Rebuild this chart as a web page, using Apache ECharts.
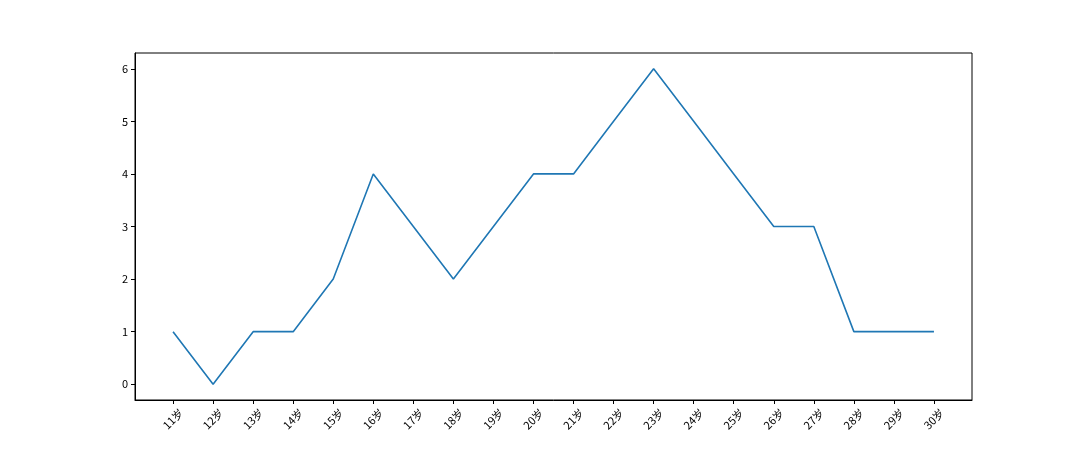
<!DOCTYPE html>
<html><head><meta charset="utf-8">
<script src="https://cdn.jsdelivr.net/npm/echarts@6/dist/echarts.min.js"></script>
<style>html,body{margin:0;padding:0;background:#fff}#c{width:1080px;height:450px}</style>
</head><body><div id="c"></div>
<script>
const categories = ["11岁","12岁","13岁","14岁","15岁","16岁","17岁","18岁","19岁","20岁","21岁","22岁","23岁","24岁","25岁","26岁","27岁","28岁","29岁","30岁"];
const values = [1,0,1,1,2,4,3,2,3,4,4,5,6,5,4,3,3,1,1,1];
const yTicks = [0,1,2,3,4,5,6];

const idx = categories.map((_, i) => i);
const chart = echarts.init(document.getElementById('c'), null, {renderer: 'canvas'});
const font = '"Noto Sans CJK SC", "DejaVu Sans", sans-serif';
chart.setOption({
  animation: false,
  grid: {left: 135, right: 108, top: 53, bottom: 50, show: true, borderColor: '#000', borderWidth: 1, backgroundColor: 'transparent'},
  xAxis: {
    type: 'value', min: -0.95, max: 19.95,
    splitLine: {show: false},
    axisLine: {show: true, onZero: false, lineStyle: {color: '#000', width: 1}},
    axisTick: {show: true, inside: false, length: 4, lineStyle: {color: '#000'}, customValues: idx},
    axisLabel: {customValues: idx, rotate: 45, align: 'center', verticalAlign: 'middle', margin: 19,
      color: '#000', fontSize: 11, fontFamily: font, formatter: v => categories[Math.round(v)]}
  },
  yAxis: {
    type: 'value', min: -0.3, max: 6.3,
    splitLine: {show: false},
    axisLine: {show: true, onZero: false, lineStyle: {color: '#000', width: 1}},
    axisTick: {show: true, inside: false, length: 4, lineStyle: {color: '#000'}, customValues: yTicks},
    axisLabel: {customValues: yTicks, color: '#000', fontSize: 11, margin: 7, fontFamily: font}
  },
  series: [{
    type: 'line', data: values.map((v, i) => [i, v]), symbol: 'none',
    lineStyle: {color: '#1f77b4', width: 1.6}
  }]
});
</script></body></html>
